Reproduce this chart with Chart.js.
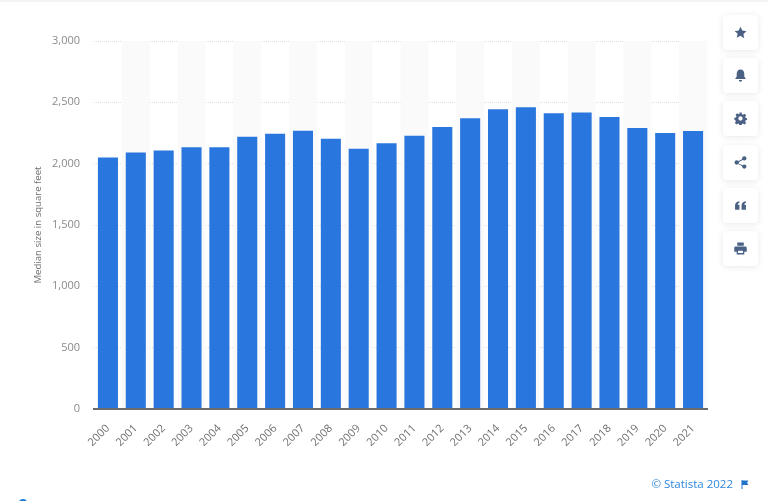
<!DOCTYPE html>
<html>
<head>
<meta charset="utf-8">
<title>Median size of new homes</title>
<script src="https://cdn.jsdelivr.net/npm/chart.js@4"></script>
<style>
html, body { margin: 0; padding: 0; background: #fff; overflow: hidden; }
#wrap { position: relative; width: 768px; height: 501px; font-family: "Open Sans", sans-serif; }
#topline { position: absolute; left: 0; top: 0; width: 768px; height: 2px; background: #f3f3f3; }
#dot { position: absolute; left: 19px; top: 499px; width: 8px; height: 8px; border-radius: 50%; background: #1f7fd8; }
.btn { position: absolute; left: 723px; width: 35px; height: 35px; background: #fff; border-radius: 4px;
       box-shadow: 0 1px 6px rgba(70,90,120,.14); display: flex; align-items: center; justify-content: center; }
.btn svg { width: 13px; height: 13px; fill: #4a6184; }
#credit { position: absolute; right: 19px; top: 477px; font-size: 11.5px; color: #2f86dc; line-height: 14px; white-space: nowrap; }
#credit svg { width: 8px; height: 9px; fill: #2073c9; margin-left: 8px; vertical-align: -1px; }
</style>
</head>
<body>
<div id="wrap">
  <canvas id="chart1" width="768" height="501" style="position:absolute;left:0;top:0"></canvas>
  <div id="topline"></div>
  <div id="dot"></div>
  <div class="btn" style="top:15px"><svg viewBox="0 0 24 24"><path d="M12 1.500l3.300 7 7.700 1-5.600 5.300 1.400 7.700L12 18l-6.800 3.500 1.400-7.700L1 9.500l7.700-1z"/></svg></div>
  <div class="btn" style="top:58px"><svg viewBox="0 0 24 24"><path d="M12 1c4.500 0 7 3.500 7 8v5l3 4.500H2L5 14V9c0-4.500 2.500-8 7-8zM9 20.500h6c0 2-1.300 3-3 3s-3-1-3-3z"/></svg></div>
  <div class="btn" style="top:101px"><svg viewBox="0 0 24 24"><path fill-rule="evenodd" d="M10 1h4l.7 3.200 2 .9 2.800-1.700 2.800 2.800-1.700 2.800.9 2 3.200.7v3l-3.200.7-.9 2 1.700 2.800-2.800 2.800-2.800-1.700-2 .9-.7 3.200h-4l-.7-3.200-2-.9-2.800 1.700-2.800-2.800 1.700-2.800-.9-2L.500 13.700v-3l3.200-.7.9-2-1.700-2.800 2.800-2.800 2.800 1.700 2-.9zM12 8a4 4 0 100 8 4 4 0 000-8z"/></svg></div>
  <div class="btn" style="top:145px"><svg viewBox="0 0 24 24"><circle cx="19" cy="4.500" r="4"/><circle cx="5" cy="12" r="4"/><circle cx="19" cy="19.500" r="4"/><path d="M5 11l14-7.500 1 1.800L6 12.800l14 6-1 2L5 13.500z"/></svg></div>
  <div class="btn" style="top:188px"><svg viewBox="0 0 24 24"><path d="M2 20v-8c0-4 2-7 8-8v3c-2 .5-3 2-3 3.500h3V20zM14 20v-8c0-4 2-7 8-8v3c-2 .5-3 2-3 3.500h3V20z"/></svg></div>
  <div class="btn" style="top:231px"><svg viewBox="0 0 24 24"><path fill-rule="evenodd" d="M6 1h12v6H6zM3 8.500h18a2.500 2.500 0 012.500 2.500v7H19v5H5v-5H.5v-7A2.500 2.500 0 013 8.500zM7.500 16v4.500h9V16z"/></svg></div>
  <div id="credit">© Statista 2022<svg viewBox="0 0 16 18"><path d="M1 0h2v18H1zM3 1h12l-3 4.500 3 4.500H3z"/></svg></div>
</div>
<script>
let years = ["2000","2001","2002","2003","2004","2005","2006","2007","2008","2009","2010",
	"2011","2012","2013","2014","2015","2016","2017","2018","2019","2020","2021"];
let medianSize = [2051,2091,2108,2133,2133,2220,2244,2269,2203,2122,2166,
	2228,2299,2370,2443,2459,2410,2418,2380,2291,2250,2266];
let yTicks = [0,500,1000,1500,2000,2500,3000];

// grey stripes behind every second year
let stripes = {
	id: 'stripes',
	beforeDatasetsDraw(chart) {
		let x = chart.scales.x, area = chart.chartArea, c = chart.ctx;
		let step = x.getPixelForValue(1) - x.getPixelForValue(0);
		c.save();
		c.fillStyle = '#fafafa';
		for (let i = 1; i < years.length; i += 2) {
			c.fillRect(x.getPixelForValue(i) - step / 2, area.top, step, area.bottom - area.top);
		}
		c.restore();
	}
};

let ctx = document.getElementById("chart1");
let myChart = new Chart(ctx, {
	type: 'bar',
	plugins: [stripes],
	data: {
		labels: years,
		datasets: [{
			data: medianSize,
			backgroundColor: '#2976de',
			barPercentage: 0.72,
			categoryPercentage: 1
		}]
	},
	options: {
		responsive: false,
		animation: false,
		layout: { padding: { left: 33, right: 61, top: 41, bottom: 0 } },
		plugins: { legend: { display: false }, tooltip: { enabled: false } },
		scales: {
			x: {
				afterFit(s) { s.height = 92; },
				grid: { display: false, drawTicks: false },
				border: { color: '#6b6b6b', width: 2, z: 1 },
				ticks: {
					color: '#6f6f6f',
					font: { family: 'Open Sans', size: 11 },
					minRotation: 45, maxRotation: 45,
					padding: 13, autoSkip: false
				}
			},
			y: {
				min: 0, max: 3000,
				afterFit(s) { s.width = 61; },
				afterBuildTicks(s) { s.ticks = yTicks.map(v => ({ value: v })); },
				grid: { color: '#dcdcdc', lineWidth: 1, drawTicks: false },
				border: { display: false, dash: [1, 1] },
				ticks: {
					color: '#8a8a8a',
					font: { family: 'Open Sans', size: 11 },
					padding: 14,
					callback: v => v.toLocaleString('en-US')
				},
				title: {
					display: true,
					text: 'Median size in square feet',
					color: '#6f6f6f',
					font: { family: 'Open Sans', size: 9.6 },
					padding: { top: 0, bottom: 0 }
				}
			}
		}
	}
});
</script>
</body>
</html>
